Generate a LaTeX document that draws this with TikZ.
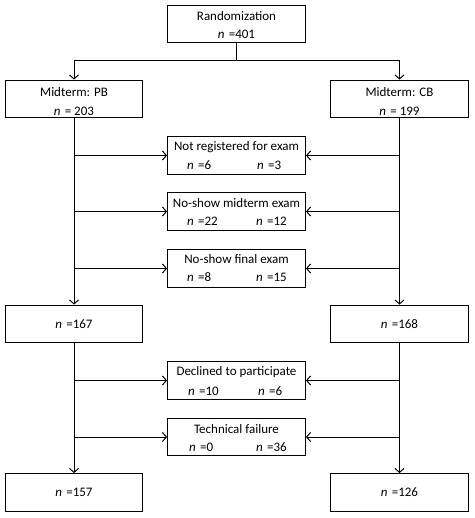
\documentclass[tikz,border=0pt]{standalone}
\usepackage{fontspec}
\setmainfont{Carlito}
\usetikzlibrary{arrows.meta}
\newcommand{\nn}{\textit{n}\hspace{0.32em}}
\begin{document}
\begin{tikzpicture}[x=1pt,y=-1pt,
  box/.style={draw,line width=1.3pt,minimum width=137.5pt,minimum height=37.5pt,inner sep=0pt},
  txt/.style={inner sep=0pt,font=\fontsize{13}{15}\selectfont},
  ntxt/.style={txt,anchor=west},
  conn/.style={line width=1pt},
  arr/.style={conn,-{Straight Barb[length=4pt,width=9pt]}}]
\useasboundingbox (0,0) rectangle (474,518);
% boxes
\node[box] (rand) at (236.5,24) {};
\node[box] (pb) at (74,99) {};
\node[box] (cb) at (399.5,99) {};
\node[box] (nr) at (236.5,155.5) {};
\node[box] (nm) at (236.5,211.5) {};
\node[box] (nf) at (236.5,268.5) {};
\node[box] (p167) at (74,324) {};
\node[box] (p168) at (399.5,324) {};
\node[box] (dc) at (236.5,380.5) {};
\node[box] (tf) at (236.5,437) {};
\node[box] (p157) at (74,492.5) {};
\node[box] (p126) at (399.5,492.5) {};
% texts
\node[txt] (randT) at (236.5,16.5) {Randomization};
\node[txt] (randN) at (236.5,34.5) {\nn=401};
\node[txt] (pbT) at (74,92.5) {Midterm: PB};
\node[txt] (pbN) at (74,111) {\nn= 203};
\node[txt] (cbT) at (399.5,92.5) {Midterm: CB};
\node[txt] (cbN) at (399.5,111) {\nn= 199};
\node[txt] (nrT) at (236.5,147) {Not registered for exam};
\node[ntxt] (nrA) at (187,165) {\nn=6};
\node[ntxt] (nrB) at (257,165) {\nn=3};
\node[txt] (nmT) at (236.5,203) {No-show midterm exam};
\node[ntxt] (nmA) at (187,221) {\nn=22};
\node[ntxt] (nmB) at (256,221) {\nn=12};
\node[txt] (nfT) at (236.5,259) {No-show final exam};
\node[ntxt] (nfA) at (187,277) {\nn=8};
\node[ntxt] (nfB) at (256,277) {\nn=15};
\node[txt] (t167) at (74,324) {\nn=167};
\node[txt] (t168) at (399.5,324) {\nn=168};
\node[txt] (dcT) at (236.5,372) {Declined to participate};
\node[ntxt] (dcA) at (188,391) {\nn=10};
\node[ntxt] (dcB) at (258,391) {\nn=6};
\node[txt] (tfT) at (236.5,429) {Technical failure};
\node[ntxt] (tfA) at (189,447) {\nn=0};
\node[ntxt] (tfB) at (256,447) {\nn=36};
\node[txt] (t157) at (74,492.5) {\nn=157};
\node[txt] (t126) at (399.5,492.5) {\nn=126};
% connectors
\coordinate (split) at (236.5,61);
\draw[conn] (rand.south) -- (split);
\draw[arr] (split) -| (pb.north);
\draw[arr] (split) -| (cb.north);
\draw[arr] (pb.south) -- (p167.north);
\draw[arr] (cb.south) -- (p168.north);
\draw[arr] (p167.south) -- (p157.north);
\draw[arr] (p168.south) -- (p126.north);
\foreach \b in {nr,nm,nf}{
  \draw[arr] (pb.south |- \b.west) -- (\b.west);
  \draw[arr] (cb.south |- \b.east) -- (\b.east);
}
\foreach \b in {dc,tf}{
  \draw[arr] (p167.south |- \b.west) -- (\b.west);
  \draw[arr] (p168.south |- \b.east) -- (\b.east);
}
\end{tikzpicture}
\end{document}
